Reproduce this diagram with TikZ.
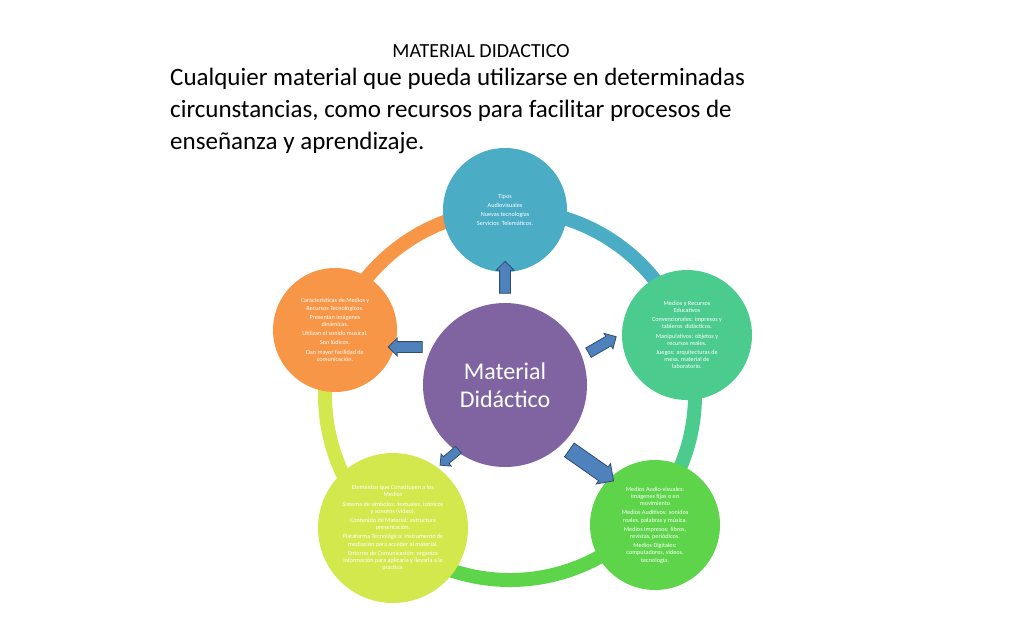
\documentclass[tikz,border=0pt]{standalone}
\usepackage{fontspec}
\setmainfont{Carlito}
\usetikzlibrary{shapes.arrows}
\definecolor{cTop}{HTML}{4BACC6}
\definecolor{cRight}{HTML}{4CCB8E}
\definecolor{cBR}{HTML}{5DD44A}
\definecolor{cBL}{HTML}{D2E84C}
\definecolor{cL}{HTML}{F79646}
\definecolor{cC}{HTML}{8064A2}
\definecolor{cArr}{HTML}{4F81BD}
\begin{document}
\begin{tikzpicture}[x=1pt,y=-1pt,
  bub/.style={circle,inner sep=0pt,text=white,align=center,font=\fontsize{6.2}{7.2}\selectfont},
  blk/.style={single arrow,draw=cArr!60!black,fill=cArr,line width=0.8pt,single arrow head extend=3.5pt,inner sep=5pt},
  seg/.style={line width=14pt}]
\useasboundingbox (0,0) rectangle (1011,630);
\coordinate (rc) at (510,395);
\draw[seg,cTop] (rc) ++(-91.5:185) arc[start angle=-91.5,end angle=-18.7,radius=185];
\draw[seg,cRight] (rc) ++(-18.7:185) arc[start angle=-18.7,end angle=41.9,radius=185];
\draw[seg,cBR] (rc) ++(41.9:185) arc[start angle=41.9,end angle=133,radius=185];
\draw[seg,cBL] (rc) ++(133:185) arc[start angle=133,end angle=200,radius=185];
\draw[seg,cL] (rc) ++(200:185) arc[start angle=200,end angle=268.5,radius=185];
\node[bub,fill=cTop,minimum size=124pt] (t) at (505,210) {Tipos\\[2pt]Audiovisuales\\[2pt]Nuevas tecnologías\\[2pt]Servicios\ \ Telemáticos.};
\node[bub,fill=cRight,minimum size=130pt] (r) at (687,335) {Medios y Recursos\\Educativos\\[2pt]Convencionales: impresos y\\tableros\ \ didácticos.\\[2pt]Manipulativos: objetos y\\recursos reales.\\[2pt]Juegos: arquitecturas de\\mesa, material de\\laboratorio.};
\node[bub,fill=cBR,minimum size=130pt] (br) at (655,525) {Medios Audio-visuales:\\imágenes fijas o en\\movimiento\\[2pt]Medios Auditivos: sonidos\\reales, palabras y música.\\[2pt]Medios Impresos: libros,\\revistas, periódicos.\\[2pt]Medios Digitales:\\computadores, videos,\\tecnología.};
\node[bub,fill=cBL,minimum size=150pt] (bl) at (393,528) {Elementos que Constituyen a los\\Medios\\[2pt]Sistema de símbolos: textuales, icónicos\\y sonoros (video).\\[2pt]Contenido de Material: estructura\\presentación.\\[2pt]Plataforma Tecnológica: instrumento de\\mediación para acceder al material.\\[2pt]Entorno de Comunicación: organiza\\información para aplicarla y llevarla a la\\practica.};
\node[bub,fill=cL,minimum size=124pt] (l) at (335,330) {Características\ de Medios y\\Recursos Tecnológicos.\\[2pt]Presentan imágenes\\dinámicas.\\[2pt]Utilizan el sonido musical.\\[2pt]Son lúdicos.\\[2pt]Dan mayor facilidad de\\comunicación.};
\node[circle,fill=cC,minimum size=164pt,inner sep=0pt,text=white,align=center,font=\fontsize{24}{28}\selectfont] (c) at (505,385) {Material\\Didáctico};
\node[blk,rotate=90,minimum height=32pt] (a1) at (505,280) {};
\node[blk,rotate=180,minimum height=34pt] (a2) at (408,347) {};
\node[blk,rotate=30,minimum height=32pt] (a3) at (600,346) {};
\node[blk,rotate=-35,minimum height=54pt,inner sep=8pt,single arrow head extend=4pt] (a4) at (588,463) {};
\node[blk,rotate=-140,minimum height=24pt,inner sep=4pt] (a5) at (451,456) {};
\node[font=\fontsize{20}{22}\selectfont] (ti) at (481,51) {MATERIAL DIDACTICO};
\node[anchor=north west,align=left,inner sep=0pt,font=\fontsize{25}{32}\selectfont] (p) at (170,68) {Cualquier material que pueda utilizarse en determinadas\\circunstancias, como recursos para facilitar procesos de\\enseñanza y aprendizaje.};
\end{tikzpicture}
\end{document}
